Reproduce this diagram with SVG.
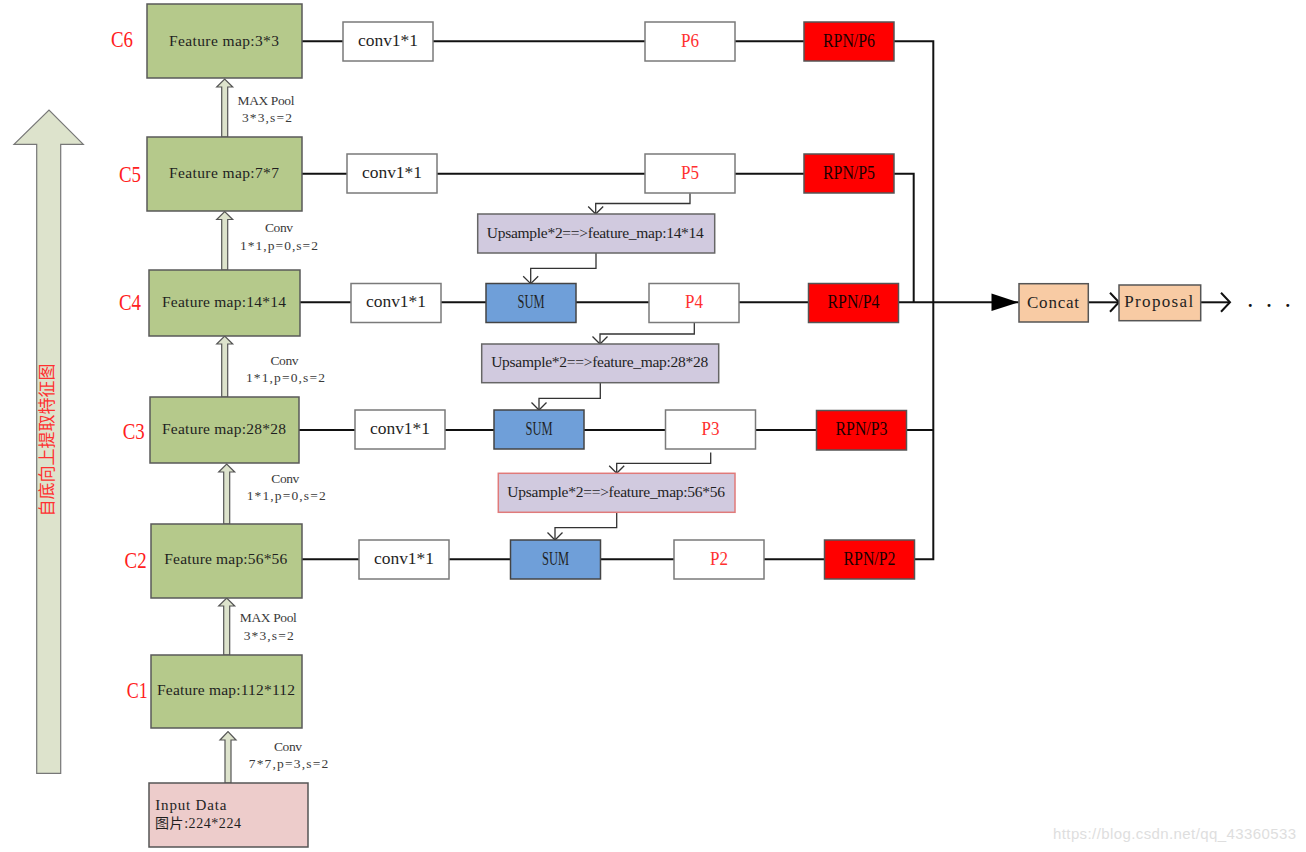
<svg xmlns="http://www.w3.org/2000/svg" width="1306" height="852" viewBox="0 0 1306 852">
<style>
.g{fill:#b5c98b;stroke:#595959;stroke-width:1.5}
.w{fill:#ffffff;stroke:#7a7a7a;stroke-width:1.5}
.r{fill:#ff0000;stroke:#555555;stroke-width:1.5}
.s{fill:#6f9fd9;stroke:#444444;stroke-width:1.5}
.u{fill:#d1cadf;stroke:#666666;stroke-width:1.5}
.u2{fill:#d1cadf;stroke:#e07a7a;stroke-width:1.5}
.o{fill:#f8cba4;stroke:#555555;stroke-width:1.5}
.in{fill:#edcccb;stroke:#555555;stroke-width:1.5}
.ba{fill:#dde3cc;stroke:#555555;stroke-width:1.2}
.t{font-family:"Liberation Serif","Noto Sans CJK SC",serif;fill:#1f1f1f}
.fm{font-size:15.5px;text-anchor:middle}
.lb{font-size:13.5px;text-anchor:middle;fill:#3a3a3a}
.bx{font-size:17.5px;text-anchor:middle}
.cl{font-size:23px;text-anchor:middle;fill:#ff2020}
.pt{fill:#ff3030}
.ln{stroke:#111111;stroke-width:2;fill:none}
.th{stroke:#333333;stroke-width:1.3;fill:none}
</style>
<defs>
<marker id="vh" viewBox="-10 -10 20 20" refX="0" refY="0" markerWidth="20" markerHeight="20" orient="auto" markerUnits="userSpaceOnUse">
<path d="M-7.5,-7.5 L0,0 L-7.5,7.5" fill="none" stroke="#333333" stroke-width="1.3"/>
</marker>
<marker id="tri" viewBox="-30 -10 32 20" refX="0" refY="0" markerWidth="32" markerHeight="20" orient="auto" markerUnits="userSpaceOnUse">
<path d="M0,0 L-27,-8.7 L-27,8.7 Z" fill="#000000"/>
</marker>
<marker id="chev" viewBox="-12 -12 14 24" refX="0" refY="0" markerWidth="14" markerHeight="24" orient="auto" markerUnits="userSpaceOnUse">
<path d="M-9,-9.5 L0,0 L-9,9.5" fill="none" stroke="#111111" stroke-width="2"/>
</marker>
</defs>
<rect width="1306" height="852" fill="#ffffff"/>

<g id="side-arrow">
<polygon class="ba" points="36.7,773.3 36.7,144.3 14,144.3 49,110 83.3,144.3 60.7,144.3 60.7,773.3" style="stroke:#777777"/>
<text class="t" transform="translate(53,440) rotate(-90)" style="font-size:17px;text-anchor:middle;fill:#ff3030;font-family:'Noto Sans CJK SC',sans-serif">自底向上提取特征图</text>
</g>

<g id="connectors">
<line class="ln" x1="302" y1="41.3" x2="343" y2="41.3"/>
<line class="ln" x1="433" y1="41.3" x2="645" y2="41.3"/>
<line class="ln" x1="735" y1="41.3" x2="804" y2="41.3"/>
<polyline class="ln" points="894,41.3 933.3,41.3 933.3,559.3 914.5,559.3"/>
<line class="ln" x1="302" y1="173.7" x2="347" y2="173.7"/>
<line class="ln" x1="437" y1="173.7" x2="645" y2="173.7"/>
<line class="ln" x1="735" y1="173.7" x2="804" y2="173.7"/>
<polyline class="ln" points="894,173.7 913.7,173.7 913.7,302.3"/>
<line class="ln" x1="300" y1="302.3" x2="351" y2="302.3"/>
<line class="ln" x1="441" y1="302.3" x2="486" y2="302.3"/>
<line class="ln" x1="576" y1="302.3" x2="649" y2="302.3"/>
<line class="ln" x1="739" y1="302.3" x2="808.5" y2="302.3"/>
<line class="ln" x1="898.5" y1="302.3" x2="1018.5" y2="302.3" marker-end="url(#tri)"/>
<line class="ln" x1="299" y1="430" x2="355" y2="430"/>
<line class="ln" x1="445" y1="430" x2="494" y2="430"/>
<line class="ln" x1="584" y1="430" x2="665.5" y2="430"/>
<line class="ln" x1="755.5" y1="430" x2="816.5" y2="430"/>
<line class="ln" x1="906.5" y1="430" x2="933.3" y2="430"/>
<line class="ln" x1="302" y1="559.3" x2="359" y2="559.3"/>
<line class="ln" x1="449" y1="559.3" x2="510.5" y2="559.3"/>
<line class="ln" x1="600.5" y1="559.3" x2="674" y2="559.3"/>
<line class="ln" x1="764" y1="559.3" x2="824.5" y2="559.3"/>
<line class="ln" x1="1088.3" y1="302.3" x2="1119" y2="302.3" marker-end="url(#chev)"/>
<line class="ln" x1="1200.7" y1="302.3" x2="1230" y2="302.3" marker-end="url(#chev)"/>
<polyline class="th" points="690,193.3 690,203.5 595.7,203.5 595.7,214" marker-end="url(#vh)"/>
<polyline class="th" points="596,253 596,268.3 530.7,268.3 530.7,283.7" marker-end="url(#vh)"/>
<polyline class="th" points="694.3,322.3 694.3,334 600,334 600,344" marker-end="url(#vh)"/>
<polyline class="th" points="600.3,382.7 600.3,398.3 539,398.3 539,410" marker-end="url(#vh)"/>
<polyline class="th" points="710.7,452.5 710.7,463.3 616.7,463.3 616.7,473.3" marker-end="url(#vh)"/>
<polyline class="th" points="616.7,512.3 616.7,527.7 555,527.7 555,540" marker-end="url(#vh)"/>
<polygon class="ba" points="221.7,137 221.7,87 216.7,87 224.7,79 232.7,87 227.7,87 227.7,137"/>
<polygon class="ba" points="221.7,270 221.7,219.5 216.7,219.5 224.7,211.5 232.7,219.5 227.7,219.5 227.7,270"/>
<polygon class="ba" points="221.7,397 221.7,344 216.7,344 224.7,336 232.7,344 227.7,344 227.7,397"/>
<polygon class="ba" points="223.7,524 223.7,472 218.7,472 226.7,464 234.7,472 229.7,472 229.7,524"/>
<polygon class="ba" points="223.7,655 223.7,606 218.7,606 226.7,598 234.7,606 229.7,606 229.7,655"/>
<polygon class="ba" points="225,783 225,740 220,740 228,731.7 236,740 231,740 231,783"/>
<text class="t lb" x="266" y="104.5" textLength="57">MAX Pool</text>
<text class="t lb" x="267" y="122" textLength="50">3*3,s=2</text>
<text class="t lb" x="279" y="232" textLength="28">Conv</text>
<text class="t lb" x="279" y="249.5" textLength="78">1*1,p=0,s=2</text>
<text class="t lb" x="284.5" y="364.5" textLength="28">Conv</text>
<text class="t lb" x="285.5" y="381.5" textLength="79">1*1,p=0,s=2</text>
<text class="t lb" x="285.3" y="482.5" textLength="28">Conv</text>
<text class="t lb" x="286.2" y="499.5" textLength="79">1*1,p=0,s=2</text>
<text class="t lb" x="268.3" y="621.5" textLength="57">MAX Pool</text>
<text class="t lb" x="268.7" y="639.5" textLength="50">3*3,s=2</text>
<text class="t lb" x="288" y="751" textLength="28">Conv</text>
<text class="t lb" x="288.5" y="768" textLength="79.6">7*7,p=3,s=2</text>
</g>

<g id="C6">
<rect class="g" x="147" y="4" width="155" height="74"/>
<text class="t fm" x="224" y="45.5" textLength="110">Feature map:3*3</text>
<text class="t cl" x="122" y="46.7" textLength="22" lengthAdjust="spacingAndGlyphs">C6</text>
</g>
<g id="C5">
<rect class="g" x="147" y="137" width="155" height="74"/>
<text class="t fm" x="224" y="178" textLength="110">Feature map:7*7</text>
<text class="t cl" x="130" y="181.7" textLength="22" lengthAdjust="spacingAndGlyphs">C5</text>
</g>
<g id="C4">
<rect class="g" x="149" y="270" width="151" height="66"/>
<text class="t fm" x="224" y="307" textLength="124">Feature map:14*14</text>
<text class="t cl" x="130" y="310" textLength="22" lengthAdjust="spacingAndGlyphs">C4</text>
</g>
<g id="C3">
<rect class="g" x="150" y="397" width="149" height="66"/>
<text class="t fm" x="224" y="434" textLength="124">Feature map:28*28</text>
<text class="t cl" x="133.8" y="439" textLength="22" lengthAdjust="spacingAndGlyphs">C3</text>
</g>
<g id="C2">
<rect class="g" x="151" y="524" width="151" height="74"/>
<text class="t fm" x="225.8" y="564" textLength="123">Feature map:56*56</text>
<text class="t cl" x="135.6" y="567.7" textLength="22" lengthAdjust="spacingAndGlyphs">C2</text>
</g>
<g id="C1">
<rect class="g" x="151" y="655" width="151" height="73"/>
<text class="t fm" x="226" y="695" textLength="138">Feature map:112*112</text>
<text class="t cl" x="137.2" y="698" textLength="21" lengthAdjust="spacingAndGlyphs">C1</text>
</g>
<g id="input">
<rect class="in" x="149" y="783" width="159" height="64"/>
<text class="t" x="155.3" y="810" style="font-size:15px" textLength="71">Input Data</text>
<text class="t" x="155" y="827.7" style="font-size:14px" textLength="86">图片:224*224</text>
</g>

<g id="conv6"><rect class="w" x="343" y="22" width="90" height="39"/><text class="t bx" x="388" y="45.7" textLength="60">conv1*1</text></g>
<g id="conv5"><rect class="w" x="347" y="154" width="90" height="39"/><text class="t bx" x="392" y="177.7" textLength="60">conv1*1</text></g>
<g id="conv4"><rect class="w" x="351" y="283.5" width="90" height="39"/><text class="t bx" x="396" y="307.2" textLength="60">conv1*1</text></g>
<g id="conv3"><rect class="w" x="355" y="410" width="90" height="39"/><text class="t bx" x="400" y="433.7" textLength="60">conv1*1</text></g>
<g id="conv2"><rect class="w" x="359" y="540" width="90" height="39"/><text class="t bx" x="404" y="563.7" textLength="60">conv1*1</text></g>

<g id="P6"><rect class="w" x="645" y="22" width="90" height="39"/><text class="t bx pt" x="690" y="46.7" style="font-size:19px" textLength="18" lengthAdjust="spacingAndGlyphs">P6</text></g>
<g id="P5"><rect class="w" x="645" y="154" width="90" height="39"/><text class="t bx pt" x="690" y="178.7" style="font-size:19px" textLength="18" lengthAdjust="spacingAndGlyphs">P5</text></g>
<g id="P4"><rect class="w" x="649" y="283.5" width="90" height="39"/><text class="t bx pt" x="694" y="308.2" style="font-size:19px" textLength="18" lengthAdjust="spacingAndGlyphs">P4</text></g>
<g id="P3"><rect class="w" x="665.5" y="410" width="90" height="39"/><text class="t bx pt" x="710.5" y="434.7" style="font-size:19px" textLength="18" lengthAdjust="spacingAndGlyphs">P3</text></g>
<g id="P2"><rect class="w" x="674" y="540" width="90" height="39"/><text class="t bx pt" x="719" y="564.7" style="font-size:19px" textLength="18" lengthAdjust="spacingAndGlyphs">P2</text></g>

<g id="RPN6"><rect class="r" x="804" y="22" width="90" height="39"/><text class="t bx" x="849" y="46.7" style="font-size:18.5px;fill:#1a0000" textLength="52" lengthAdjust="spacingAndGlyphs">RPN/P6</text></g>
<g id="RPN5"><rect class="r" x="804" y="154" width="90" height="39"/><text class="t bx" x="849" y="178.7" style="font-size:18.5px;fill:#1a0000" textLength="52" lengthAdjust="spacingAndGlyphs">RPN/P5</text></g>
<g id="RPN4"><rect class="r" x="808.5" y="283.5" width="90" height="39"/><text class="t bx" x="853.5" y="308.2" style="font-size:18.5px;fill:#1a0000" textLength="52" lengthAdjust="spacingAndGlyphs">RPN/P4</text></g>
<g id="RPN3"><rect class="r" x="816.5" y="410.5" width="90" height="39.5"/><text class="t bx" x="861.5" y="435.2" style="font-size:18.5px;fill:#1a0000" textLength="52" lengthAdjust="spacingAndGlyphs">RPN/P3</text></g>
<g id="RPN2"><rect class="r" x="824.5" y="540" width="90" height="39"/><text class="t bx" x="869.5" y="564.7" style="font-size:18.5px;fill:#1a0000" textLength="52" lengthAdjust="spacingAndGlyphs">RPN/P2</text></g>

<g id="SUM4"><rect class="s" x="486" y="283.5" width="90" height="39"/><text class="t bx" x="531" y="308.2" style="font-size:19px" textLength="27" lengthAdjust="spacingAndGlyphs">SUM</text></g>
<g id="SUM3"><rect class="s" x="494" y="410" width="90" height="39"/><text class="t bx" x="539" y="434.7" style="font-size:19px" textLength="27" lengthAdjust="spacingAndGlyphs">SUM</text></g>
<g id="SUM2"><rect class="s" x="510.5" y="540" width="90" height="39"/><text class="t bx" x="555.5" y="564.7" style="font-size:19px" textLength="27" lengthAdjust="spacingAndGlyphs">SUM</text></g>

<g id="Up1"><rect class="u" x="477.7" y="214" width="237" height="39"/><text class="t fm" x="595.3" y="237.7" textLength="217">Upsample*2==&gt;feature_map:14*14</text></g>
<g id="Up2"><rect class="u" x="481.7" y="344" width="237" height="38.7"/><text class="t fm" x="599.7" y="367" textLength="217">Upsample*2==&gt;feature_map:28*28</text></g>
<g id="Up3"><rect class="u2" x="498.3" y="473.3" width="236.7" height="39"/><text class="t fm" x="616.2" y="496.5" textLength="217.7">Upsample*2==&gt;feature_map:56*56</text></g>

<g id="Concat"><rect class="o" x="1019" y="283.7" width="69.3" height="38.3"/><text class="t bx" x="1053" y="308.3" style="font-size:17px" textLength="52">Concat</text></g>
<g id="Proposal"><rect class="o" x="1119" y="285" width="81.7" height="35.7"/><text class="t bx" x="1158.7" y="307.3" style="font-size:17px" textLength="69">Proposal</text></g>
<g id="dots">
<text class="t" x="1248" y="307" style="font-size:18px;font-weight:bold;fill:#111111" textLength="42">. . .</text>
</g>
<text x="1053" y="839" style="font-family:'Liberation Sans',sans-serif;font-size:15px;fill:#dedede" textLength="243">https://blog.csdn.net/qq_43360533</text>
</svg>
